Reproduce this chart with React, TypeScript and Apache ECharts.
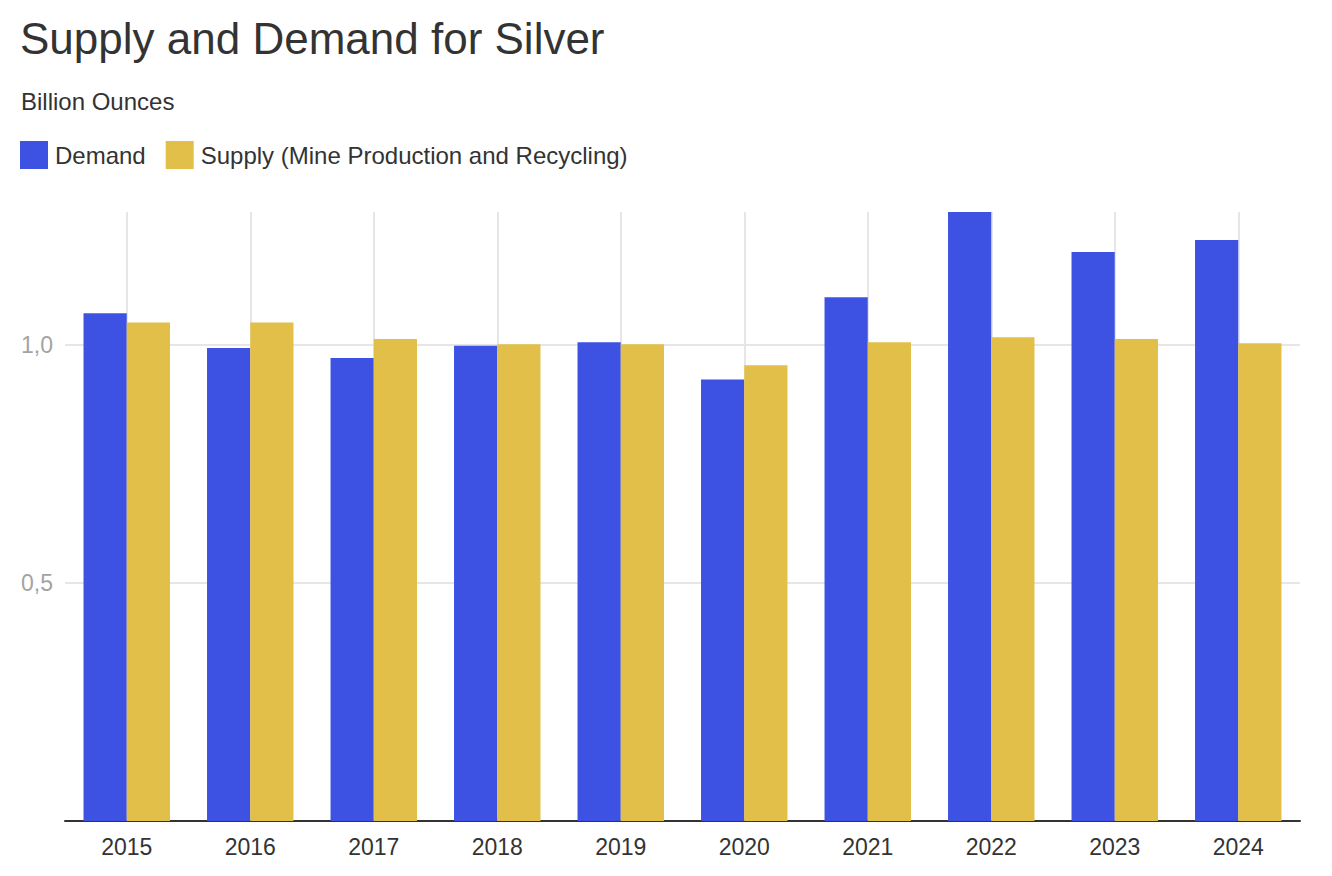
import React, { useEffect, useRef } from "react";
import * as echarts from "echarts";

const years = ["2015", "2016", "2017", "2018", "2019", "2020", "2021", "2022", "2023", "2024"];
const demand = [1.067, 0.994, 0.973, 0.999, 1.006, 0.928, 1.101, 1.28, 1.196, 1.221];
const supply = [1.048, 1.048, 1.013, 1.002, 1.002, 0.958, 1.006, 1.017, 1.013, 1.004];
const yTicks = [0, 0.5, 1.0];

const FONT = "'Liberation Sans', Arial, Helvetica, sans-serif";

const App: React.FC = () => {
  const chartRef = useRef<HTMLDivElement>(null);

  useEffect(() => {
    document.body.style.margin = "0";
    if (!chartRef.current) return;
    const chart = echarts.init(chartRef.current, undefined, { renderer: "svg" });

    // half-year steps from the left edge to the right edge; odd steps are the year centres
    const halfSteps: string[] = [];
    for (let i = 0; i <= years.length * 2; i++) halfSteps.push(String(i));

    const option = {
      animation: false,
      backgroundColor: "#ffffff",
      textStyle: { fontFamily: FONT },
      title: [
        {
          text: "Supply and Demand for Silver",
          left: 20,
          top: 16,
          padding: 0,
          textStyle: { fontSize: 44, fontWeight: "normal", color: "#333333", fontFamily: FONT },
        },
        {
          text: "Billion Ounces",
          left: 21,
          top: 89,
          padding: 0,
          textStyle: { fontSize: 24, fontWeight: "normal", color: "#333333", fontFamily: FONT },
        },
      ],
      legend: {
        left: 20,
        top: 141,
        padding: 0,
        icon: "rect",
        itemWidth: 28,
        itemHeight: 28,
        itemGap: 20,
        textStyle: { fontSize: 24, color: "#333333", fontFamily: FONT, padding: [0, 0, 0, 2] },
        data: ["Demand", "Supply (Mine Production and Recycling)"],
      },
      grid: { left: 65, right: 32, top: 212, bottom: 55, containLabel: false },
      xAxis: [
        {
          type: "category",
          data: years,
          axisLine: { show: true, lineStyle: { color: "#333333", width: 2 } },
          axisTick: { show: false },
          axisLabel: { fontSize: 23, color: "#333333", margin: 14, fontFamily: FONT },
          splitLine: { show: false },
        },
        {
          type: "category",
          data: halfSteps,
          boundaryGap: false,
          position: "bottom",
          axisLine: { show: false },
          axisTick: { show: false },
          axisLabel: { show: false },
          splitLine: {
            show: true,
            interval: (index: number) => index % 2 === 1,
            lineStyle: { color: "#e6e6e6", width: 2 },
          },
        },
      ],
      yAxis: {
        type: "value",
        min: yTicks[0],
        max: Math.max(...demand, ...supply),
        interval: yTicks[1] - yTicks[0],
        axisLine: { show: false },
        axisTick: { show: false },
        axisLabel: {
          fontSize: 23,
          color: "#a3a3a3",
          margin: 12,
          fontFamily: FONT,
          showMinLabel: false,
          showMaxLabel: false,
          formatter: (v: number) => (yTicks.includes(v) ? v.toFixed(1).replace(".", ",") : ""),
        },
        splitLine: {
          show: true,
          showMinLine: false,
          showMaxLine: false,
          lineStyle: { color: "#e6e6e6", width: 2 },
        },
      },
      series: [
        {
          name: "Demand",
          type: "bar",
          data: demand,
          itemStyle: { color: "#3d52e3" },
          barGap: "0%",
          barCategoryGap: "30%",
        },
        {
          name: "Supply (Mine Production and Recycling)",
          type: "bar",
          data: supply,
          itemStyle: { color: "#e2bf48" },
          barGap: "0%",
          barCategoryGap: "30%",
        },
      ],
    };

    chart.setOption(option);
    return () => {
      chart.dispose();
    };
  }, []);

  return <div ref={chartRef} style={{ width: "1332px", height: "876px" }} />;
};

export default App;
